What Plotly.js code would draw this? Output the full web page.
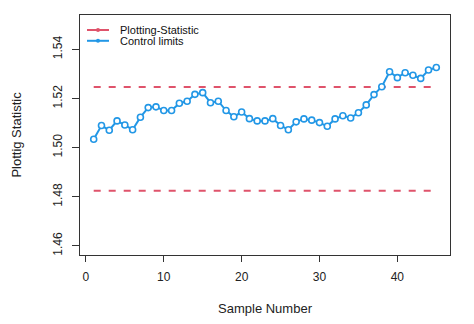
<!DOCTYPE html>
<html>
<head>
<meta charset="utf-8">
<script src="https://cdn.plot.ly/plotly-3.0.1.min.js"></script>
<style>html,body{margin:0;padding:0;background:#fff}#chart{width:474px;height:324px}</style>
</head>
<body>
<div id="chart"></div>
<script>
const sampleNumber = [1,2,3,4,5,6,7,8,9,10,11,12,13,14,15,16,17,18,19,20,21,22,23,24,25,26,27,28,29,30,31,32,33,34,35,36,37,38,39,40,41,42,43,44,45];
const plottingStatistic = [1.5034,1.5090,1.5071,1.5109,1.5092,1.5073,1.5124,1.5163,1.5166,1.5151,
  1.5151,1.5181,1.5189,1.5217,1.5224,1.5183,1.5189,1.5151,1.5126,1.5145,
  1.5118,1.5109,1.5109,1.5118,1.5090,1.5073,1.5105,1.5117,1.5112,1.5102,
  1.5087,1.5117,1.5130,1.5121,1.5142,1.5174,1.5216,1.5248,1.5309,1.5285,
  1.5305,1.5295,1.5282,1.5316,1.5326];
const UCL = 1.5247;
const LCL = 1.4825;
const legendLabels = ["Plotting-Statistic", "Control limits"];
const xTicks = [0,10,20,30,40];
const yTicks = [1.46,1.48,1.50,1.52,1.54];
const yTickText = ["1.46","1.48","1.50","1.52","1.54"];

const RED = "#DF536B", BLUE = "#2297E6";
const FONT = "Liberation Sans, Arial, sans-serif";
const legendColors = [RED, BLUE];

const traces = [
  {x: sampleNumber, y: sampleNumber.map(() => UCL), mode: "lines", line: {color: RED, width: 2, dash: "7px,8px"}, showlegend: false, hoverinfo: "skip"},
  {x: sampleNumber, y: sampleNumber.map(() => LCL), mode: "lines", line: {color: RED, width: 2, dash: "7px,8px"}, showlegend: false, hoverinfo: "skip"},
  {x: sampleNumber, y: plottingStatistic, mode: "lines+markers", line: {color: BLUE, width: 2},
   marker: {symbol: "circle", size: 6, color: "#ffffff", line: {color: BLUE, width: 1.6}}, showlegend: false}
];

// Legend drawn as shapes + annotations in pixel-like paper coordinates (compact R-style legend)
const W = 474, H = 324, ML = 80, MR = 24, MT = 15, MB = 69;
const pw = W - ML - MR, ph = H - MT - MB;
const px = v => (v - ML) / pw;
const py = v => 1 - (v - MT) / ph;
const shapes = [], annotations = [];
legendLabels.forEach((lab, i) => {
  const yy = 30 + i * 10.8;
  shapes.push({type: "line", xref: "paper", yref: "paper", x0: px(87), x1: px(109), y0: py(yy), y1: py(yy),
               line: {color: legendColors[i], width: 2}});
  shapes.push({type: "circle", xref: "paper", yref: "paper", x0: px(96), x1: px(100), y0: py(yy - 2), y1: py(yy + 2),
               fillcolor: legendColors[i], line: {color: legendColors[i], width: 0}});
  annotations.push({xref: "paper", yref: "paper", x: px(118), y: py(yy), xanchor: "left", yanchor: "middle",
                    text: lab, showarrow: false, font: {family: FONT, size: 11, color: "#111"}});
});

const layout = {
  width: W, height: H,
  margin: {l: ML, r: MR, t: MT, b: MB},
  paper_bgcolor: "#fff", plot_bgcolor: "#fff",
  font: {family: FONT, size: 12, color: "#222"},
  showlegend: false,
  shapes: shapes, annotations: annotations,
  xaxis: {range: [-0.76, 46.76], tickvals: xTicks, ticks: "outside", ticklen: 6, tickcolor: "#333",
          ticklabelstandoff: 5,
          showgrid: false, zeroline: false, showline: true, mirror: true, linecolor: "#333", linewidth: 1,
          tickfont: {family: FONT, size: 12, color: "#222"},
          title: {text: "Sample Number", font: {family: FONT, size: 13, color: "#222"}, standoff: 20}},
  yaxis: {range: [1.4563, 1.554], tickvals: yTicks, ticktext: yTickText, tickangle: -90,
          ticks: "outside", ticklen: 7, tickcolor: "#333", ticklabelstandoff: 5,
          showgrid: false, zeroline: false, showline: true, mirror: true, linecolor: "#333", linewidth: 1,
          tickfont: {family: FONT, size: 12, color: "#222"},
          title: {text: "Plottig Statistic", font: {family: FONT, size: 13, color: "#222"}, standoff: 26}}
};

Plotly.newPlot("chart", traces, layout, {staticPlot: true, displayModeBar: false});
</script>
</body>
</html>
